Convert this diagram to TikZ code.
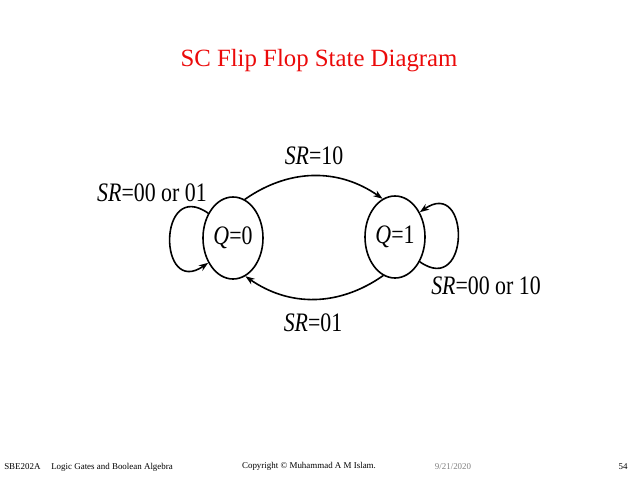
\documentclass[tikz,border=0pt]{standalone}
\usepackage{fontspec}
\setmainfont{Liberation Serif}
\newfontfamily\lblfont[FakeStretch=0.82]{Liberation Serif}
\usetikzlibrary{shapes.geometric,arrows.meta}
\definecolor{titlered}{RGB}{235,10,10}

\begin{document}
\begin{tikzpicture}[x=0.75pt,y=-0.75pt,
  state/.style={draw,ellipse,line width=1.2pt,minimum width=45pt,minimum height=61.5pt,inner sep=0pt,font=\lblfont\fontsize{20}{22}\selectfont},
  trans/.style={line width=1.2pt,-{Stealth[length=7pt,width=5pt]}},
  lbl/.style={font=\lblfont\fontsize{20}{22}\selectfont,inner sep=0pt},
  foot/.style={font=\fontsize{6.7}{8}\selectfont,inner sep=0pt}]
  \useasboundingbox (0,0) rectangle (638,478);

  \node[font=\fontsize{18.6}{22}\selectfont,text=titlered] (title) at (319,61) {SC Flip Flop State Diagram};

  \node[state] (q0) at (233,238) {\textit{Q}=0};
  \node[state] (q1) at (395,237) {\textit{Q}=1};

  \draw[trans] (q0.73) to[out=35,in=145] (q1.108);
  \draw[trans] (q1.-107) to[out=-145,in=-35] (q0.-72);
  \draw[trans] (q0.135) to[out=145,in=215,looseness=3.2] (q0.225);
  \draw[trans] (q1.-45) to[out=-35,in=35,looseness=3.2] (q1.45);

  \node[lbl] (l10) at (314,156) {\textit{SR}=10};
  \node[lbl] (l01) at (313,323) {\textit{SR}=01};
  \node[lbl] (lloop0) at (152,193) {\textit{SR}=00 or 01};
  \node[lbl] (lloop1) at (486,286) {\textit{SR}=00 or 10};

  % footer
  \node[foot,anchor=west] (course) at (4,467) {SBE202A};
  \node[foot,anchor=west] (topic) at (51,467) {Logic Gates and Boolean Algebra};
  \node[foot] (copy) at (309,466) {Copyright \textcopyright\ Muhammad A M Islam.};
  \node[foot,text=gray] (date) at (453,467) {9/21/2020};
  \node[foot] (page) at (623,467) {54};
\end{tikzpicture}
\end{document}
